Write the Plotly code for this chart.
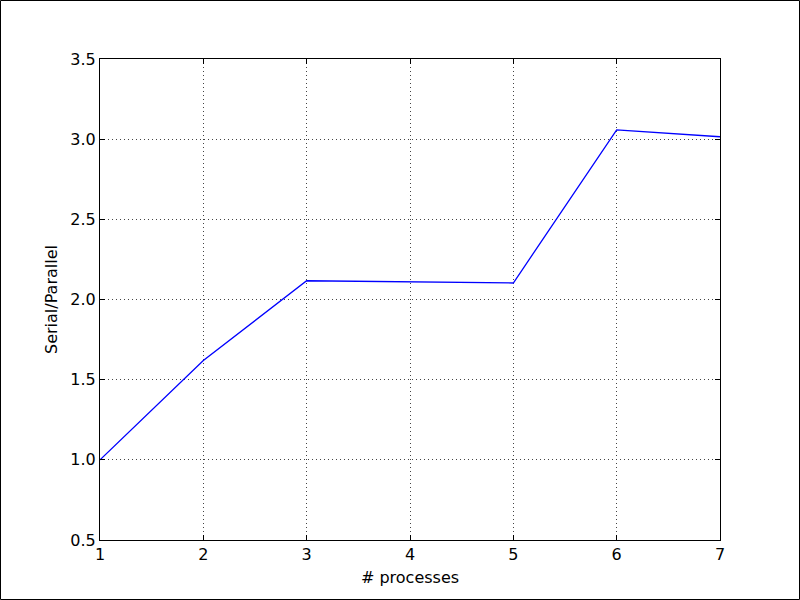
import plotly.graph_objects as go

processes = [1, 2, 3, 4, 5, 6, 7]
speedup = [1.0, 1.62, 2.117, 2.11, 2.103, 3.058, 3.015]

x_ticks = [1, 2, 3, 4, 5, 6, 7]
y_ticks = [0.5, 1.0, 1.5, 2.0, 2.5, 3.0, 3.5]
y_labels = ["0.5", "1.0", "1.5", "2.0", "2.5", "3.0", "3.5"]

W, H = 800, 600
ML, MR, MT, MB = 100, 80, 59, 60
pw, ph = W - ML - MR, H - MT - MB

fig = go.Figure()
fig.add_trace(go.Scatter(x=processes, y=speedup, mode="lines",
                         line=dict(color="#0000ff", width=1.3), showlegend=False))

axis_common = dict(
    showline=True, linecolor="black", linewidth=1, mirror="allticks",
    ticks="inside", ticklen=5, tickcolor="black",
    showgrid=True, gridcolor="#444444", gridwidth=1, griddash="1px,3px",
    zeroline=False, automargin=False,
    tickfont=dict(size=16),
)

fig.update_xaxes(range=[1, 7], tickvals=x_ticks,
                 title=dict(text="# processes", font=dict(size=16), standoff=8), **axis_common)
fig.update_yaxes(range=[0.5, 3.5], tickvals=y_ticks, ticktext=y_labels,
                 title=dict(text="Serial/Parallel", font=dict(size=16), standoff=8), **axis_common)

# figure frame
fig.add_shape(type="rect", xref="paper", yref="paper",
              x0=-ML / pw + 0.5 / pw, x1=1 + MR / pw - 0.5 / pw,
              y0=-MB / ph + 0.5 / ph, y1=1 + MT / ph - 0.5 / ph,
              line=dict(color="black", width=1), layer="above")

fig.update_layout(
    template="none",
    width=W, height=H,
    margin=dict(l=ML, r=MR, t=MT, b=MB),
    plot_bgcolor="white", paper_bgcolor="white",
    font=dict(family="DejaVu Sans", size=16, color="black"),
)

fig.write_html("out.html", config={"displayModeBar": False},
               post_script="document.body.style.margin='0';")
